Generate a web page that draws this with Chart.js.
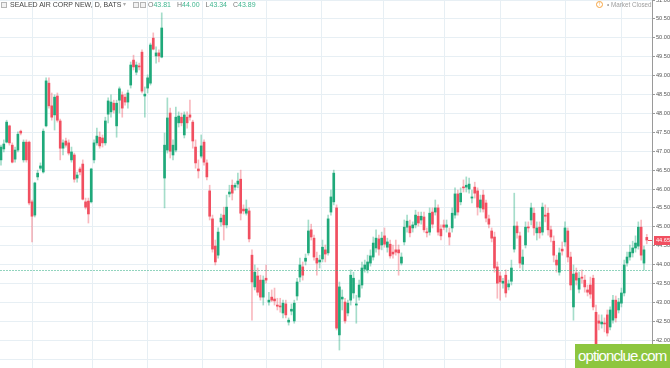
<!DOCTYPE html>
<html>
<head>
<meta charset="utf-8">
<script src="https://cdn.jsdelivr.net/npm/chart.js@4.4.0/dist/chart.umd.min.js"></script>
<style>
  html, body { margin: 0; padding: 0; background: #fff; }
  #wrap { position: relative; width: 670px; height: 368px; overflow: hidden; font-family: "Liberation Sans", Arial, sans-serif; }
  #chart { position: absolute; left: 0; top: 0; }
  .abs { position: absolute; white-space: nowrap; }
  .ico { position: absolute; width: 4px; height: 4px; border: 1px solid #b5b5b5; background: #f2f2f2; }
  #title { left: 10px; top: 0; font-size: 7px; line-height: 9px; color: #444; }
  #caret { left: 123px; top: 0; font-size: 6px; line-height: 9px; color: #aaa; }
  #ohlc { left: 148px; top: 0; font-size: 7px; line-height: 9px; color: #7a7a7a; }
  #ohlc b { font-weight: normal; color: #3fb58f; margin-right: 6px; }
  #closed { left: 607px; top: 0; font-size: 6.3px; line-height: 9px; color: #9c9c9c; }
  #warn { left: 596px; top: 1px; width: 5px; height: 5px; border: 1px solid #f5a340; border-radius: 50%;
          font-size: 5px; line-height: 5px; text-align: center; color: #f5a340; }
  #mark { left: 575px; top: 344px; width: 95px; height: 24px; background: #8dc63f; color: #fff;
          font-size: 15px; line-height: 24px; padding-left: 3px; box-sizing: border-box; letter-spacing: -0.9px; }
</style>
</head>
<body>
<div id="wrap">
  <canvas id="chart" width="670" height="368"></canvas>
  <div class="ico" style="left:1px; top:2px;"></div>
  <div id="title" class="abs">SEALED AIR CORP NEW, D, BATS</div>
  <div id="caret" class="abs">&#9662;</div>
  <div class="ico" style="left:133px; top:2px;"></div>
  <div class="ico" style="left:140px; top:2px;"></div>
  <div id="ohlc" class="abs">O<b>43.81</b>H<b>44.00</b>L<b>43.34</b>C<b>43.89</b></div>
  <div id="warn" class="abs">!</div>
  <div id="closed" class="abs">&bull; Market Closed</div>
  <div id="mark" class="abs">optionclue.com</div>
</div>
<script>
// daily candles (oldest -> newest)
const opens = [
  46.77, 47.06, 47.24, 47.67, 47.16, 46.79, 47.03, 47.53, 46.77, 47.24,
  47.24, 45.66, 45.31, 46.32, 46.55, 46.45, 47.67, 48.80, 48.20, 47.96,
  48.46, 47.80, 47.08, 47.27, 47.22, 46.77, 46.90, 46.29, 46.53, 46.66,
  45.66, 45.68, 45.66, 46.77, 47.22, 47.37, 47.35, 47.22, 47.98, 48.04,
  48.27, 47.67, 48.35, 48.49, 48.43, 48.30, 48.75, 49.41, 49.09, 49.25,
  49.62, 48.46, 48.67, 48.80, 49.99, 49.52, 49.60, 49.49, 46.29, 47.03,
  48.01, 46.90, 47.03, 47.75, 47.90, 47.43, 47.90, 47.96, 47.77, 47.11,
  46.53, 46.87, 47.24, 46.69, 45.95, 45.21, 44.49, 44.25, 45.13, 45.31,
  45.05, 45.87, 46.10, 46.05, 46.13, 46.26, 45.47, 45.36, 45.42, 44.25,
  43.41, 43.70, 43.59, 43.14, 43.64, 43.01, 43.14, 43.09, 42.93, 42.90,
  42.72, 42.96, 42.48, 42.77, 42.51, 43.17, 43.67, 43.94, 44.09, 44.31,
  44.92, 44.70, 44.17, 44.07, 44.15, 44.39, 44.31, 45.39, 45.66, 45.50,
  42.14, 43.09, 43.01, 42.72, 43.06, 43.25, 42.93, 43.14, 43.46, 43.88,
  43.86, 44.04, 44.20, 44.44, 44.68, 44.52, 44.76, 44.46, 44.54, 44.33,
  44.39, 44.39, 44.04, 44.60, 44.99, 45.02, 44.97, 45.05, 45.28, 45.18,
  45.26, 44.86, 44.86, 45.39, 45.39, 45.50, 44.94, 45.05, 44.99, 44.84,
  44.97, 45.31, 45.87, 45.66, 46.05, 46.05, 46.00, 45.76, 46.05, 45.95,
  45.50, 45.84, 45.63, 45.21, 44.89, 44.73, 43.94, 43.70, 43.51, 43.72,
  43.41, 43.56, 44.41, 45.02, 44.76, 44.01, 44.52, 44.99, 45.18, 45.36,
  44.84, 44.99, 44.86, 45.31, 45.36, 44.92, 44.62, 44.12, 43.80, 44.41,
  44.60, 44.89, 44.20, 42.88, 43.78, 43.35, 43.67, 43.59, 43.33, 43.46,
  43.64, 42.74, 42.51, 42.43, 42.45, 42.67, 42.35, 42.53, 43.06, 42.80,
  42.98, 43.25, 44.04, 44.20, 44.31, 44.44, 44.49, 44.99, 44.04, 44.72
];
const highs = [
  47.16, 47.30, 47.82, 47.69, 47.22, 47.11, 47.51, 47.56, 47.30, 47.30,
  47.27, 45.71, 46.18, 46.50, 46.69, 47.59, 48.94, 48.94, 48.54, 48.49,
  48.54, 47.85, 47.30, 47.35, 47.30, 47.11, 46.95, 46.45, 46.58, 46.77,
  45.76, 45.76, 46.55, 47.30, 47.61, 47.51, 47.43, 47.90, 48.41, 48.49,
  48.35, 48.35, 48.70, 48.57, 48.51, 48.62, 49.36, 49.54, 49.36, 49.33,
  49.68, 48.70, 49.02, 49.86, 50.13, 49.76, 49.68, 50.66, 47.48, 48.41,
  48.14, 47.30, 48.17, 48.04, 48.01, 48.04, 48.04, 48.35, 47.82, 47.30,
  46.77, 47.43, 47.30, 46.77, 46.10, 45.31, 44.65, 44.97, 45.34, 45.52,
  45.84, 46.10, 46.24, 46.16, 46.42, 46.50, 45.58, 45.71, 45.50, 44.39,
  43.99, 43.91, 43.72, 43.70, 43.99, 43.27, 43.33, 43.38, 43.11, 43.11,
  43.06, 43.06, 42.59, 42.96, 43.06, 43.64, 44.17, 44.07, 44.28, 45.18,
  45.07, 44.78, 44.33, 44.25, 44.65, 44.52, 45.31, 45.97, 46.50, 45.58,
  43.54, 43.33, 43.11, 43.06, 43.86, 43.80, 43.19, 43.59, 44.07, 44.12,
  44.25, 44.39, 44.73, 44.92, 44.78, 44.86, 44.97, 44.70, 44.65, 44.52,
  44.65, 44.52, 44.31, 45.18, 45.31, 45.18, 45.13, 45.44, 45.39, 45.39,
  45.39, 44.97, 45.50, 45.50, 45.71, 45.58, 45.05, 45.18, 45.18, 44.97,
  45.50, 46.03, 45.97, 46.03, 46.24, 46.32, 46.29, 45.97, 46.18, 46.03,
  45.84, 45.97, 45.71, 45.31, 44.97, 44.86, 44.07, 43.80, 43.64, 43.86,
  43.59, 44.12, 45.89, 45.13, 44.86, 44.39, 45.13, 45.13, 45.63, 45.50,
  45.13, 45.13, 45.63, 45.58, 45.50, 45.02, 44.76, 44.25, 44.44, 44.60,
  45.13, 44.97, 44.33, 43.99, 43.91, 43.80, 43.86, 43.72, 43.46, 43.67,
  43.72, 42.93, 42.67, 42.67, 42.59, 42.80, 42.88, 43.19, 43.17, 43.11,
  43.38, 44.12, 44.33, 44.52, 44.62, 44.76, 45.13, 45.18, 44.49, 44.80
];
const lows = [
  46.63, 46.98, 47.22, 47.16, 46.69, 46.71, 46.98, 47.43, 46.71, 46.71,
  45.58, 44.60, 45.26, 46.24, 46.50, 46.42, 47.64, 48.14, 47.82, 47.56,
  47.77, 46.77, 46.90, 47.11, 46.90, 46.71, 46.18, 46.18, 46.37, 45.71,
  45.47, 45.10, 45.63, 46.69, 47.16, 47.08, 47.11, 47.16, 47.75, 47.90,
  48.01, 47.37, 48.01, 47.90, 48.22, 48.14, 48.67, 49.15, 49.02, 49.15,
  48.54, 47.90, 48.54, 48.75, 49.68, 49.33, 49.36, 49.47, 45.50, 46.95,
  46.82, 46.77, 46.98, 47.64, 47.67, 47.35, 47.61, 47.82, 47.08, 46.55,
  46.29, 46.82, 46.63, 46.24, 45.18, 44.33, 43.99, 44.17, 45.02, 44.65,
  44.97, 45.79, 45.71, 45.97, 46.03, 45.18, 45.34, 45.31, 44.60, 42.53,
  43.33, 43.19, 43.06, 42.93, 43.51, 42.93, 43.02, 42.93, 42.80, 42.74,
  42.59, 42.59, 42.40, 42.67, 42.45, 43.06, 43.54, 43.59, 43.99, 44.25,
  44.65, 44.12, 43.72, 43.91, 44.07, 44.07, 44.25, 45.31, 45.58, 42.27,
  41.74, 42.80, 42.45, 42.64, 42.93, 43.11, 42.45, 43.06, 43.38, 43.80,
  43.78, 43.96, 44.12, 44.33, 44.25, 44.39, 44.46, 44.33, 44.17, 44.17,
  44.25, 43.72, 43.99, 44.52, 44.86, 44.73, 44.86, 44.97, 45.02, 45.07,
  44.86, 44.73, 44.78, 44.97, 45.31, 44.78, 44.65, 44.92, 44.86, 44.52,
  44.86, 45.23, 45.31, 45.58, 45.92, 45.92, 45.89, 45.63, 45.76, 45.31,
  45.39, 45.39, 45.13, 44.97, 44.60, 43.80, 43.11, 43.06, 43.38, 43.14,
  43.33, 43.46, 44.33, 44.70, 43.91, 43.86, 44.44, 44.86, 45.05, 44.78,
  44.65, 44.70, 44.78, 45.13, 44.78, 44.60, 44.07, 43.80, 43.72, 44.25,
  44.49, 44.07, 43.33, 42.53, 43.46, 43.25, 43.51, 43.27, 43.17, 43.11,
  42.80, 41.74, 42.27, 42.32, 42.22, 42.11, 42.27, 42.45, 42.48, 42.72,
  42.88, 43.17, 43.96, 44.12, 44.20, 44.33, 44.41, 44.12, 43.86, 44.55
];
const closes = [
  47.11, 47.19, 47.77, 47.22, 46.71, 47.03, 47.45, 47.48, 47.24, 46.77,
  45.63, 45.28, 46.16, 46.42, 46.61, 47.53, 48.86, 48.20, 47.90, 48.43,
  47.82, 47.08, 47.22, 47.16, 46.95, 46.98, 46.26, 46.37, 46.45, 45.73,
  45.52, 45.34, 46.53, 47.22, 47.40, 47.14, 47.22, 47.80, 48.33, 48.30,
  48.09, 48.27, 48.65, 48.14, 48.30, 48.54, 49.28, 49.23, 49.28, 49.23,
  48.59, 48.51, 48.94, 49.81, 49.70, 49.60, 49.52, 50.26, 47.16, 47.88,
  47.00, 47.16, 47.90, 47.93, 47.75, 47.96, 47.75, 47.90, 47.27, 46.69,
  46.48, 47.14, 46.71, 46.32, 45.28, 44.41, 44.07, 44.86, 45.23, 45.05,
  45.52, 45.92, 45.89, 46.10, 46.21, 45.36, 45.42, 45.47, 44.68, 43.54,
  43.80, 43.27, 43.14, 43.59, 43.59, 43.06, 43.06, 43.04, 42.90, 42.88,
  42.98, 42.67, 42.53, 42.82, 42.98, 43.54, 43.99, 43.72, 44.17, 44.89,
  44.73, 44.20, 44.04, 44.12, 44.46, 44.28, 45.21, 45.79, 46.42, 42.32,
  43.41, 43.14, 42.51, 42.98, 43.72, 43.64, 42.96, 43.46, 43.91, 43.99,
  44.07, 44.23, 44.57, 44.70, 44.41, 44.70, 44.54, 44.60, 44.23, 44.28,
  44.33, 44.31, 44.20, 44.99, 45.15, 44.84, 45.05, 45.31, 45.10, 45.28,
  44.92, 44.84, 45.36, 45.07, 45.50, 44.86, 44.76, 44.99, 45.05, 44.73,
  45.36, 45.87, 45.39, 45.89, 46.03, 46.10, 46.13, 45.79, 45.89, 45.52,
  45.71, 45.47, 45.23, 45.07, 44.70, 43.91, 43.51, 43.54, 43.56, 43.25,
  43.49, 43.91, 45.02, 44.84, 44.04, 44.20, 44.99, 44.97, 45.50, 44.97,
  44.97, 44.84, 45.52, 45.28, 44.92, 44.73, 44.25, 43.99, 44.31, 44.36,
  44.97, 44.20, 43.46, 43.75, 43.59, 43.64, 43.64, 43.41, 43.27, 43.22,
  42.88, 41.87, 42.45, 42.48, 42.43, 42.19, 42.80, 43.06, 42.59, 43.01,
  43.25, 43.99, 44.20, 44.33, 44.44, 44.57, 44.99, 44.25, 44.39, 44.65
];
// month separators (candle index) and price axis ticks
const monthLines = [11, 32.3, 52.1, 71.3, 94.3, 113.5, 135.5, 157.1, 177.3, 200, 220.2];
const priceTicks = [41.5, 42, 42.5, 43, 43.5, 44, 44.5, 45, 45.5, 46, 46.5, 47, 47.5, 48, 48.5, 49, 49.5, 50, 50.5, 51];
const refLine = 43.87;

const green = '#1fa97a';
const red = '#f14f60';
const greenWick = 'rgba(31,169,122,0.4)';
const redWick = 'rgba(241,79,96,0.4)';
const gridColor = '#e7eff4';
const axisColor = '#9a9a9a';

const isUp = i => closes[i] >= opens[i];

// dotted line + last price tag on the axis
const priceLines = {
    id: 'priceLines',
    afterDraw(chart) {
        const { ctx, chartArea, scales: { y } } = chart;
        ctx.save();
        const ry = Math.round(y.getPixelForValue(refLine)) + 0.5;
        ctx.strokeStyle = 'rgba(38,170,125,0.5)';
        ctx.lineWidth = 1;
        ctx.setLineDash([2, 1]);
        ctx.beginPath();
        ctx.moveTo(chartArea.left, ry);
        ctx.lineTo(chartArea.right, ry);
        ctx.stroke();

        const last = closes[closes.length - 1];
        const ly = Math.round(y.getPixelForValue(last)) + 0.5;
        ctx.setLineDash([]);
        ctx.strokeStyle = red;
        ctx.beginPath();
        ctx.moveTo(chartArea.right - 4, ly);
        ctx.lineTo(chartArea.right, ly);
        ctx.stroke();
        ctx.fillStyle = red;
        ctx.fillRect(chartArea.right + 2, ly - 4.5, 16, 9);
        ctx.fillStyle = '#fff';
        ctx.font = '5.6px "Liberation Sans"';
        ctx.textBaseline = 'middle';
        ctx.fillText(last.toFixed(2), chartArea.right + 4, ly);
        ctx.restore();
    }
};

const ctx = document.getElementById('chart').getContext('2d');
new Chart(ctx, {
    type: 'bar',
    data: {
        datasets: [
            {
                label: 'body',
                data: opens.map((o, i) => ({ x: i, y: [o, closes[i]] })),
                backgroundColor: c => isUp(c.dataIndex) ? green : red,
                barThickness: 2,
                minBarLength: 1,
                grouped: false,
                order: 1
            },
            {
                label: 'wick',
                data: lows.map((l, i) => ({ x: i, y: [l, highs[i]] })),
                backgroundColor: c => isUp(c.dataIndex) ? greenWick : redWick,
                barThickness: 1,
                grouped: false,
                order: 2
            }
        ]
    },
    options: {
        responsive: false,
        animation: false,
        devicePixelRatio: 1,
        layout: { padding: 0 },
        plugins: {
            legend: { display: false },
            tooltip: { enabled: false }
        },
        scales: {
            x: {
                type: 'linear',
                min: -0.35,
                max: 230.85,
                offset: false,
                afterBuildTicks: s => { s.ticks = monthLines.map(v => ({ value: v })); },
                ticks: { display: false },
                border: { display: false },
                grid: { color: gridColor, drawTicks: false, offset: false },
                afterFit: s => { s.height = 0; }
            },
            y: {
                position: 'right',
                min: 41.265,
                max: 51.0,
                afterBuildTicks: s => { s.ticks = priceTicks.map(v => ({ value: v })); },
                ticks: {
                    font: { size: 5.6, family: '"Liberation Sans", Arial, sans-serif' },
                    color: '#555',
                    padding: 1,
                    callback: v => Number(v).toFixed(2)
                },
                grid: { color: gridColor, tickLength: 3, tickColor: axisColor },
                border: { color: axisColor },
                afterFit: s => { s.width = 18; s.paddingTop = 0; s.paddingBottom = 0; }
            }
        }
    },
    plugins: [priceLines]
});
</script>
</body>
</html>
